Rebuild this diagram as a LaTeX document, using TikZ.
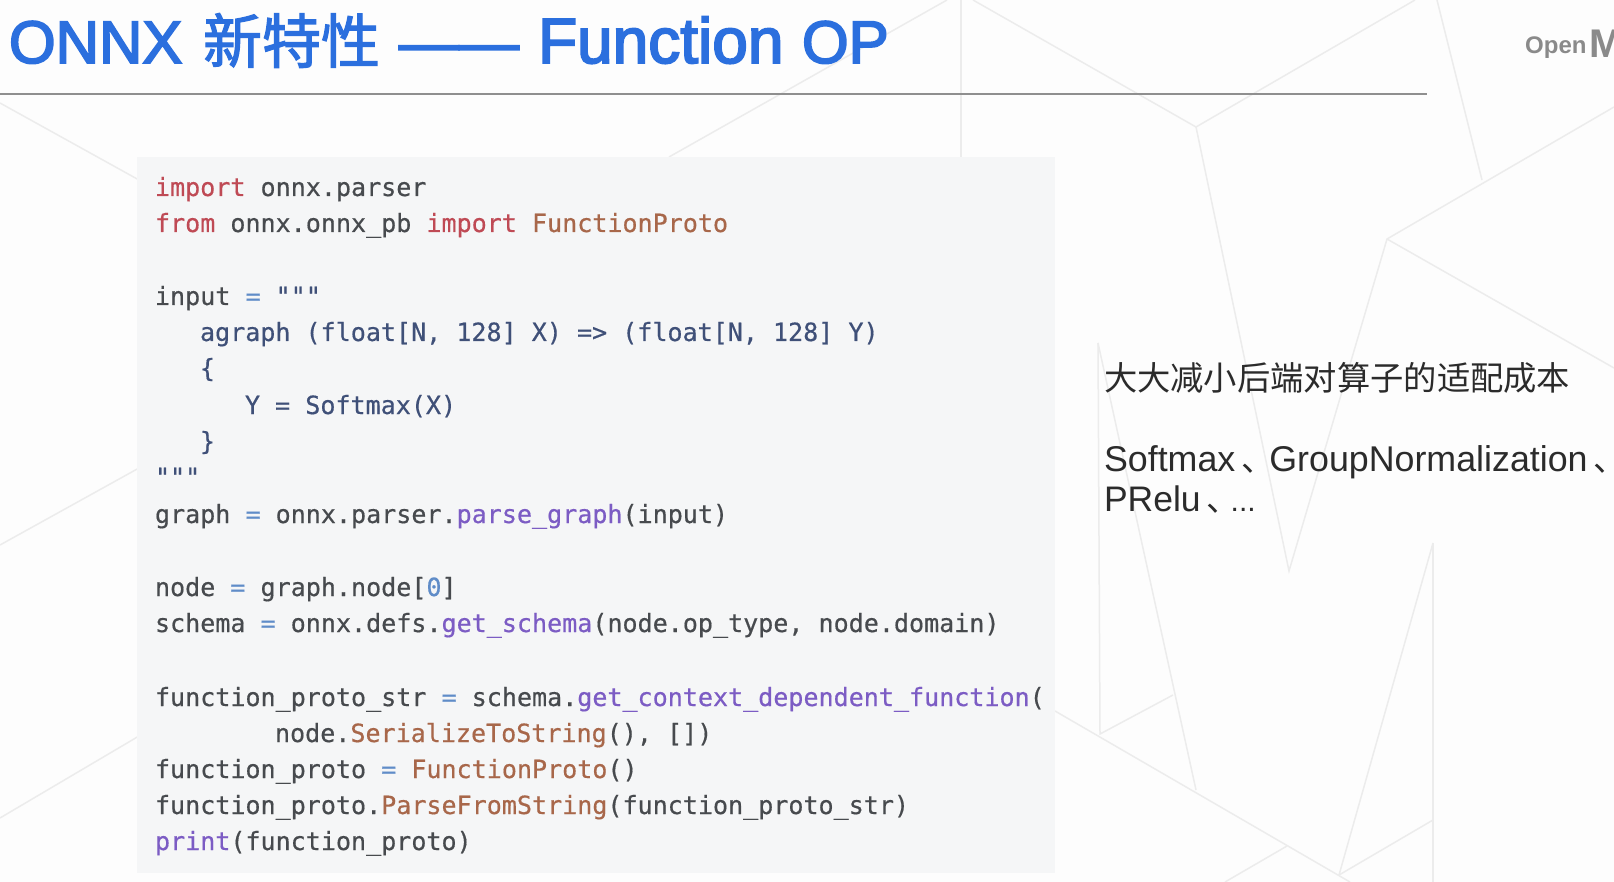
\documentclass[tikz,border=0pt]{standalone}
\usepackage{fontspec}
\setmainfont{Liberation Sans}
\setmonofont[FakeBold=0.5]{DejaVu Sans Mono}
\newfontfamily\cjkfont{Noto Sans CJK SC}
\newfontfamily\titlefont[FakeBold=3]{Liberation Sans}
\newfontfamily\titlecjk[FakeBold=2]{Noto Sans CJK SC}
\definecolor{pagebg}{HTML}{FDFDFD}
\definecolor{facet}{HTML}{ECECEC}
\definecolor{rulegray}{HTML}{8F8F8F}
\definecolor{titleblue}{HTML}{2B6FDE}
\definecolor{cardbg}{HTML}{F5F6F7}
\definecolor{codetext}{HTML}{474A4E}
\definecolor{kwred}{HTML}{BF4A55}
\definecolor{fnpurple}{HTML}{7C5CC4}
\definecolor{clsbrown}{HTML}{A8674A}
\definecolor{opblue}{HTML}{5F8CC8}
\definecolor{strnavy}{HTML}{3F5078}
\definecolor{sidetext}{HTML}{2B2B2B}
\definecolor{logogray}{HTML}{8A8A8A}
\newcommand{\kw}[1]{\textcolor{kwred}{#1}}
\newcommand{\fn}[1]{\textcolor{fnpurple}{#1}}
\newcommand{\cls}[1]{\textcolor{clsbrown}{#1}}
\newcommand{\op}[1]{\textcolor{opblue}{#1}}
\newcommand{\str}[1]{\textcolor{strnavy}{#1}}
\newcommand{\sidemark}[1]{{\cjkfont\fontsize{33}{38}\selectfont\hspace{6pt}、\hspace{#1}}}
\tikzset{
  facetline/.style={draw=facet,line width=1.5pt},
  codeline/.style={anchor=base west,inner sep=0pt,outer sep=0pt,text=codetext,
    font=\ttfamily\fontsize{25.05}{30}\selectfont},
  sideline/.style={anchor=base west,inner sep=0pt,outer sep=0pt,text=sidetext},
  titlepart/.style={anchor=base west,inner sep=0pt,outer sep=0pt,text=titleblue},
}
\begin{document}
\begin{tikzpicture}[x=1pt,y=-1pt]
\useasboundingbox (0,0) rectangle (1614,882);
\clip (0,0) rectangle (1614,882);
\fill[pagebg] (0,0) rectangle (1614,882);
% background facets
\draw[facetline] (961,0) -- (961,157);
\draw[facetline] (973,0) -- (1196,127) -- (1415,0);
\draw[facetline] (1437,0) -- (1482,180);
\draw[facetline] (1196,127) -- (1289,571) -- (1387,239) -- (1614,107);
\draw[facetline] (1387,239) -- (1614,368);
\draw[facetline] (1098,343) -- (1100,734) -- (1173,695);
\draw[facetline] (1098,343) -- (1196,790);
\draw[facetline] (1055,711) -- (1350,882);
\draw[facetline] (1339,875) -- (1433,820);
\draw[facetline] (1433,543) -- (1433,882);
\draw[facetline] (1433,543) -- (1339,875);
\draw[facetline] (1287,846) -- (1225,882);
\draw[facetline] (669,157) -- (947,0);
\draw[facetline] (0,103) -- (139,180);
\draw[facetline] (0,545) -- (139,468);
\draw[facetline] (0,818) -- (139,736);
% title
\node[titlepart,font=\titlefont\fontsize{60}{70}\selectfont] (t1) at (9,63) {ONNX};
\node[titlepart,font=\titlecjk\fontsize{59}{70}\selectfont] (t2) at (203,63) {新特性};
\node[titlepart,font=\titlefont\fontsize{60}{70}\selectfont] (t3) at (399,63) {——};
\node[titlepart,font=\titlefont\fontsize{64}{70}\selectfont] (t4) at (538,63) {Function};
\node[titlepart,font=\titlefont\fontsize{60}{70}\selectfont] (t5) at (802,63) {OP};
\draw[rulegray,line width=2.5pt] (0,94) -- (1427,94);
% logo
\node[anchor=base west,inner sep=0pt,text=logogray,font=\bfseries\fontsize{24}{28}\selectfont] (logoa) at (1525,54) {Open};
\node[anchor=base west,inner sep=0pt,text=logogray,font=\bfseries\fontsize{40}{44}\selectfont] (logob) at (1589,58) {M};
% code card
\fill[cardbg] (137,157) rectangle (1055,873);
\node[codeline] (c1) at (155,196) {\kw{import} onnx.parser};
\node[codeline] (c2) at (155,232) {\kw{from} onnx.onnx\_pb \kw{import} \cls{FunctionProto}};
\node[codeline] (c3) at (155,305) {input \op{=} \str{"""}};
\node[codeline] (c4) at (200,341) {\str{agraph (float[N, 128] X) => (float[N, 128] Y)}};
\node[codeline] (c5) at (200,377) {\str{\{}};
\node[codeline] (c6) at (245,414) {\str{Y = Softmax(X)}};
\node[codeline] (c7) at (200,450) {\str{\}}};
\node[codeline] (c8) at (155,486) {\str{"""}};
\node[codeline] (c9) at (155,523) {graph \op{=} onnx.parser.\fn{parse\_graph}(input)};
\node[codeline] (c10) at (155,596) {node \op{=} graph.node[\op{0}]};
\node[codeline] (c11) at (155,632) {schema \op{=} onnx.defs.\fn{get\_schema}(node.op\_type, node.domain)};
\node[codeline] (c12) at (155,706) {function\_proto\_str \op{=} schema.\fn{get\_context\_dependent\_function}(};
\node[codeline] (c13) at (275,742) {node.\cls{SerializeToString}(), [])};
\node[codeline] (c14) at (155,778) {function\_proto \op{=} \cls{FunctionProto}()};
\node[codeline] (c15) at (155,814) {function\_proto.\cls{ParseFromString}(function\_proto\_str)};
\node[codeline] (c16) at (155,850) {\fn{print}(function\_proto)};
% side text
\node[sideline,font=\cjkfont\fontsize{33.3}{38}\selectfont] (s1) at (1104,391) {大大减小后端对算子的适配成本};
\node[sideline,font=\fontsize{35.8}{40}\selectfont] (s2) at (1104,471) {Softmax\sidemark{-5pt}GroupNormalization\sidemark{-14pt}};
\node[sideline,font=\fontsize{35.5}{40}\selectfont] (s3) at (1104,511) {PRelu\sidemark{-9pt}{\fontsize{30}{40}\selectfont ...}};
\end{tikzpicture}
\end{document}
